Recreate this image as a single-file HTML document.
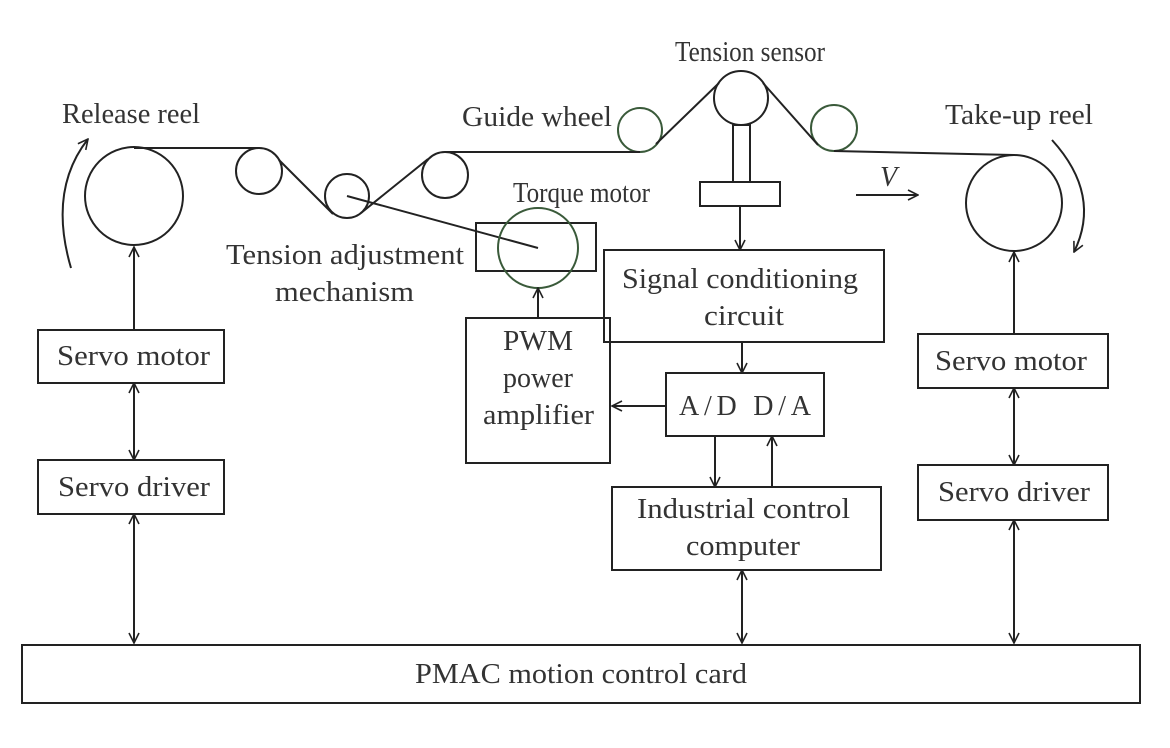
<!DOCTYPE html>
<html><head><style>
body{margin:0;background:#fff}
svg text{font-family:"Liberation Serif",serif;font-size:28px;fill:#333}
</style></head><body>
<svg width="1170" height="743" viewBox="0 0 1170 743" xmlns="http://www.w3.org/2000/svg">
<defs>
<marker id="a" viewBox="0 0 12 12" refX="11" refY="6" markerWidth="12" markerHeight="12" orient="auto-start-reverse" markerUnits="userSpaceOnUse">
<path d="M1,1 L11,6 L1,11" fill="none" stroke="#222" stroke-width="1.6"/></marker>
</defs>
<g fill="none" stroke="#222" stroke-width="2">
<circle cx="134" cy="196" r="49"/>
<circle cx="259" cy="171" r="23"/>
<circle cx="347" cy="196" r="22"/>
<circle cx="445" cy="175" r="23"/>
<circle cx="741" cy="98" r="27"/>
<circle cx="1014" cy="203" r="48"/>
<circle cx="640" cy="130" r="22" stroke="#3a5a3a"/>
<circle cx="834" cy="128" r="23" stroke="#3a5a3a"/>
<path d="M134,148 L259,148 M279,160 L333,214 M361,213 L428,159 M445,152 L640,152 M656,144 L719,83 M763,83 L818,145 M834,151 L1014,155"/>
<path d="M347,196 L538,248"/>
<rect x="476" y="223" width="120" height="48"/>
<circle cx="538" cy="248" r="40" stroke="#3a5a3a"/>
<rect x="733" y="125" width="17" height="57"/>
<rect x="700" y="182" width="80" height="24"/>
<path d="M740,206 L740,250" marker-end="url(#a)"/>
<rect x="604" y="250" width="280" height="92"/>
<rect x="466" y="318" width="144" height="145"/>
<rect x="666" y="373" width="158" height="63"/>
<rect x="612" y="487" width="269" height="83"/>
<rect x="22" y="645" width="1118" height="58"/>
<rect x="38" y="330" width="186" height="53"/>
<rect x="38" y="460" width="186" height="54"/>
<rect x="918" y="334" width="190" height="54"/>
<rect x="918" y="465" width="190" height="55"/>
<path d="M538,318 L538,288" marker-end="url(#a)"/>
<path d="M666,406 L612,406" marker-end="url(#a)"/>
<path d="M742,342 L742,373" marker-end="url(#a)"/>
<path d="M715,436 L715,487" marker-end="url(#a)"/>
<path d="M772,487 L772,436" marker-end="url(#a)"/>
<path d="M742,570 L742,643" marker-start="url(#a)" marker-end="url(#a)"/>
<path d="M134,330 L134,247" marker-end="url(#a)"/>
<path d="M134,383 L134,460" marker-start="url(#a)" marker-end="url(#a)"/>
<path d="M134,514 L134,643" marker-start="url(#a)" marker-end="url(#a)"/>
<path d="M1014,334 L1014,252" marker-end="url(#a)"/>
<path d="M1014,388 L1014,465" marker-start="url(#a)" marker-end="url(#a)"/>
<path d="M1014,520 L1014,643" marker-start="url(#a)" marker-end="url(#a)"/>
<path d="M856,195 L918,195" marker-end="url(#a)"/>
<path d="M71,268 Q48,190 88,139" marker-end="url(#a)"/>
<path d="M1052,140 Q1102,195 1074,252" marker-end="url(#a)"/>
</g>
<text x="62" y="123" textLength="138" lengthAdjust="spacingAndGlyphs">Release reel</text>
<text x="462" y="126" textLength="150" lengthAdjust="spacingAndGlyphs">Guide wheel</text>
<text x="675" y="61" font-size="26" textLength="150" lengthAdjust="spacingAndGlyphs">Tension sensor</text>
<text x="945" y="124" textLength="148" lengthAdjust="spacingAndGlyphs">Take-up reel</text>
<text x="513" y="202" font-size="26" textLength="137" lengthAdjust="spacingAndGlyphs">Torque motor</text>
<text x="226" y="264" textLength="238" lengthAdjust="spacingAndGlyphs">Tension adjustment</text>
<text x="275" y="301" textLength="139" lengthAdjust="spacingAndGlyphs">mechanism</text>
<text x="880" y="186" font-style="italic">V</text>
<text x="622" y="288" textLength="236" lengthAdjust="spacingAndGlyphs">Signal conditioning</text>
<text x="704" y="325" textLength="80" lengthAdjust="spacingAndGlyphs">circuit</text>
<text x="503" y="350" textLength="70" lengthAdjust="spacingAndGlyphs">PWM</text>
<text x="503" y="387" textLength="70" lengthAdjust="spacingAndGlyphs">power</text>
<text x="483" y="424" textLength="111" lengthAdjust="spacingAndGlyphs">amplifier</text>
<text x="679" y="415" textLength="132" lengthAdjust="spacing">A/D D/A</text>
<text x="637" y="518" textLength="213" lengthAdjust="spacingAndGlyphs">Industrial control</text>
<text x="686" y="555" textLength="114" lengthAdjust="spacingAndGlyphs">computer</text>
<text x="57" y="365" textLength="153" lengthAdjust="spacingAndGlyphs">Servo motor</text>
<text x="58" y="496" textLength="152" lengthAdjust="spacingAndGlyphs">Servo driver</text>
<text x="935" y="370" textLength="152" lengthAdjust="spacingAndGlyphs">Servo motor</text>
<text x="938" y="501" textLength="152" lengthAdjust="spacingAndGlyphs">Servo driver</text>
<text x="415" y="683" textLength="332" lengthAdjust="spacingAndGlyphs">PMAC motion control card</text>
</svg>
</body></html>
